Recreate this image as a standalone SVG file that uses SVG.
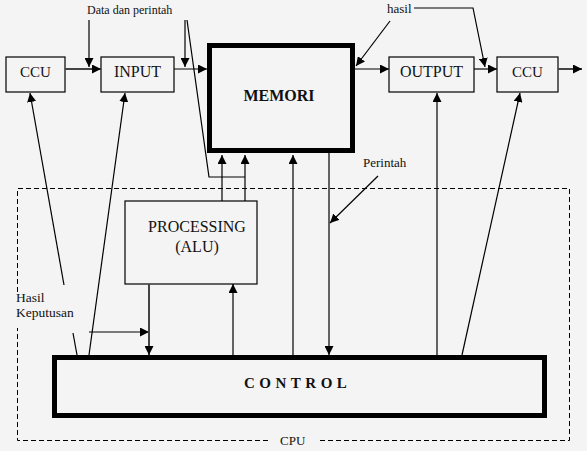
<svg xmlns="http://www.w3.org/2000/svg" width="587" height="451" viewBox="0 0 587 451">
<defs>
<marker id="ah" viewBox="0 0 10 10" refX="10" refY="5" markerWidth="9" markerHeight="9" markerUnits="userSpaceOnUse" orient="auto">
<path d="M0,0 L10,5 L0,10 z" fill="#000"/>
</marker>
<style>
.box{fill:#f4f4f4;stroke:#000;stroke-width:1.2}
.thick{fill:#f4f4f4;stroke:#000;stroke-width:5}
.t{font-family:'Liberation Serif','DejaVu Serif',serif;fill:#111}
.c{stroke:#000;stroke-width:1.2;fill:none}
.g{stroke:#444;stroke-width:2;fill:none}
.a{marker-end:url(#ah)}
.dash{stroke:#000;stroke-width:1;fill:none;stroke-dasharray:5,3}
</style>
</defs>
<rect width="587" height="451" fill="#f4f4f4"/>
<path class="dash" d="M17.5,292 V188.5 H569.5 V440.5 H317 M268,440.5 H17.5 V328"/>
<g font-family="Liberation Serif, DejaVu Serif, serif">
<g id="ccu1"><rect class="box" x="6" y="57" width="59" height="35"/><text class="t" x="35.5" y="77" font-size="15" text-anchor="middle">CCU</text></g>
<g id="input"><rect class="box" x="101" y="57" width="73" height="35"/><text class="t" x="137.5" y="77" font-size="16" text-anchor="middle">INPUT</text></g>
<g id="memori"><rect class="thick" x="209.5" y="45.5" width="143" height="105"/><text class="t" x="279" y="101" font-size="16" font-weight="bold" text-anchor="middle">MEMORI</text></g>
<g id="output"><rect class="box" x="389" y="57" width="85" height="35"/><text class="t" x="431.5" y="77" font-size="16" text-anchor="middle">OUTPUT</text></g>
<g id="ccu2"><rect class="box" x="497" y="57" width="61" height="35"/><text class="t" x="527.5" y="77" font-size="15" text-anchor="middle">CCU</text></g>
<g id="processing"><rect class="box" x="125" y="201" width="132" height="83"/><text class="t" x="197" y="232" font-size="16" text-anchor="middle">PROCESSING</text><text class="t" x="197" y="252" font-size="16" text-anchor="middle">(ALU)</text></g>
<g id="control"><rect class="thick" x="54.5" y="357.5" width="490" height="58"/><text class="t" x="244" y="388" font-size="15" font-weight="bold" letter-spacing="4.5">CONTROL</text></g>
<g id="labels">
<text class="t" x="87" y="14" font-size="12">Data dan perintah</text>
<text class="t" x="387" y="13" font-size="13">hasil</text>
<text class="t" x="363" y="167" font-size="13">Perintah</text>
<text class="t" x="16" y="302" font-size="13.5">Hasil</text>
<text class="t" x="16" y="317" font-size="13.5">Keputusan</text>
<text class="t" x="280" y="445" font-size="13">CPU</text>
</g>
</g>
<g id="connectors">
<line class="g a" x1="65" y1="69" x2="101" y2="69"/>
<line class="c a" x1="89" y1="20" x2="89" y2="67"/>
<line class="c a" x1="174" y1="69" x2="207" y2="69"/>
<line class="c a" x1="185" y1="20" x2="185" y2="67"/>
<polyline class="c" points="187,20 209,177 245,177"/>
<line class="c a" x1="222" y1="201" x2="222" y2="155"/>
<line class="c a" x1="245" y1="201" x2="245" y2="155"/>
<line class="c a" x1="293" y1="355" x2="293" y2="155"/>
<line class="c a" x1="329" y1="153" x2="329" y2="355"/>
<line class="c a" x1="355" y1="69" x2="389" y2="69"/>
<line class="c a" x1="390" y1="21" x2="356" y2="66"/>
<polyline class="c a" points="414,8 473,8 485,67"/>
<line class="c a" x1="474" y1="69" x2="497" y2="69"/>
<line class="g a" x1="558" y1="69" x2="582" y2="69"/>
<line class="c a" x1="437" y1="355" x2="437" y2="93"/>
<line class="c a" x1="462" y1="355" x2="520" y2="93"/>
<line class="c a" x1="378" y1="176" x2="330" y2="223"/>
<line class="c a" x1="89" y1="355" x2="125" y2="93"/>
<line class="c a" x1="64" y1="285" x2="30" y2="93"/>
<line class="c" x1="73" y1="333" x2="77" y2="355"/>
<line class="c a" x1="89" y1="332" x2="149" y2="332"/>
<line class="g a" x1="149" y1="284" x2="149" y2="355"/>
<line class="c a" x1="233" y1="355" x2="233" y2="284"/>
</g>
</svg>
